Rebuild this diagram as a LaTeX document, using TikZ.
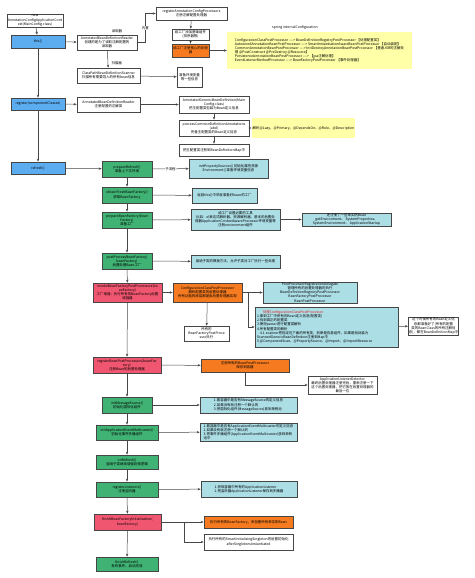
\documentclass[tikz,border=0pt]{standalone}
\usepackage{fontspec}
\setmainfont{Noto Sans CJK SC}
\usetikzlibrary{arrows.meta, positioning}
\definecolor{callblue}{RGB}{92,172,240}
\definecolor{stepgreen}{RGB}{64,178,116}
\definecolor{steppink}{RGB}{240,86,112}
\definecolor{steporange}{RGB}{245,122,32}
\definecolor{notecyan}{RGB}{172,222,230}
\definecolor{noteyellow}{RGB}{255,255,168}
\definecolor{linegray}{RGB}{70,70,70}
\definecolor{titlered}{RGB}{220,30,30}

\begin{document}
\begin{tikzpicture}[
    x=1pt, y=-1pt,
    font=\fontsize{3.45}{4.1}\selectfont,
    >={Stealth[length=3pt,width=2.4pt]},
    box/.style={draw=linegray, line width=0.6pt, inner sep=0.5pt, align=center, fill=white},
    bluebox/.style={box, fill=callblue},
    greenbox/.style={box, fill=stepgreen},
    pinkbox/.style={box, fill=steppink},
    orangebox/.style={box, fill=steporange},
    cyanbox/.style={box, fill=notecyan},
    yellownote/.style={fill=noteyellow, inner sep=1pt},
    flow/.style={->, draw=linegray, line width=0.5pt},
    tag/.style={fill=white, inner sep=0.4pt}
]

\useasboundingbox (0,0) rectangle (474,578);

% ============================================================
% CONSTRUCTOR: this()
% ============================================================
\node[box, minimum width=56, minimum height=13] (newCtx) at (35,20.5)
    {new\\AnnotationConfigApplicationCont\\ext(MainConfig.class)};
\node[bluebox, minimum width=54, minimum height=13] (thisCall) at (38,41.5) {this()};

\node[box, minimum width=60, minimum height=15] (readerA) at (107,42.5)
    {AnnotatedBeanDefinitionReader\\创建的是为了读取注解配置的\\读取器};
\node (lblReader) at (117,31) {读取器};

\node[box, minimum width=71, minimum height=13] (regProcs) at (191.5,13.5)
    {registerAnnotationConfigProcessors\\注册注解配置处理器};
\node[box, minimum width=37, minimum height=11] (addBase) at (190.5,34.5)
    {给工厂添加基础组件\\(排序器等)};
\node[orangebox, minimum width=37, minimum height=13] (regCore) at (190.5,50.5)
    {给工厂注册核心的处理\\器};

% internal processors
\node (lblInternal) at (295,28) {spring internalConfiguration};
\node[yellownote, minimum width=185, minimum height=37, align=left] (noteInternal) at (319.5,50.5)
    {ConfigurationClassPostProcessor ----> BeanDefinitionRegistryPostProcessor 【处理配置类】\\
     AutowiredAnnotationBeanPostProcessor ----> SmartInstantiationAwareBeanPostProcessor 【自动装配】\\
     CommonAnnotationBeanPostProcessor ----> InitDestroyAnnotationBeanPostProcessor 【普通JSR的注解处\\
     理 @PostConstruct @PreDestroy @Resource】\\
     PersistenceAnnotationBeanPostProcessor ----> 【jpa注解处理】\\
     EventListenerMethodProcessor ----> BeanFactoryPostProcessor 【事件处理器】};

\node[box, minimum width=63, minimum height=15] (scanner) at (108.5,75.5)
    {ClassPathBeanDefinitionScanner\\扫描所有需要导入的所有bean信息};
\node[box, minimum width=25, minimum height=20] (envInfo) at (189.5,77)
    {准备环境变量\\等一些信息};

\draw[flow] (newCtx) -- (thisCall);
\draw[flow] (thisCall) -- (readerA);
\draw[flow] (readerA.east) -- ++(8,0) |- node[tag, pos=0.25] {内置} (regProcs.west);
\draw[flow] (regProcs) -- (addBase);
\draw[flow] (addBase) -- (regCore);
\draw[flow] (regCore.east) -- (noteInternal.west |- regCore.east);
\draw[flow] (readerA) -- node[right, pos=0.75] {扫描器} (scanner);
\draw[flow] (scanner) -- (envInfo);

% ============================================================
% REGISTER: register(componentClasses)
% ============================================================
\node[bluebox, minimum width=54, minimum height=12] (register) at (38,104) {register(componentClasses)};
\node[box, minimum width=63, minimum height=15] (readerB) at (108.5,104.5)
    {AnnotatedBeanDefinitionReader\\注册配置的注解类};
\node[box, minimum width=70, minimum height=17] (wrapDef) at (214,104.5)
    {AnnotatedGenericBeanDefinition(Main\\Config.class)\\把主配置类包装为Bean定义信息};
\node[box, minimum width=70, minimum height=16] (commonDef) at (214,128)
    {processCommonDefinitionAnnotations\\(abd)\\完善主配置类的Bean定义信息};
\node[yellownote, minimum width=67, minimum height=20] (noteLazy) at (303.5,128)
    {解析@Lazy、@Primary、\\@DependsOn、@Role、@Description};
\node[box, minimum width=70, minimum height=12] (defMap) at (214,150)
    {把主配置类注册到BeanDefinitionMap中};

\draw[flow] (thisCall) -- (register);
\draw[flow] (register) -- (readerB);
\draw[flow] (readerB) -- (wrapDef);
\draw[flow] (wrapDef) -- (commonDef);
\draw[flow] (commonDef) -- (defMap);
\draw[flow] (commonDef) -- (noteLazy);

% ============================================================
% REFRESH: refresh()
% ============================================================
\node[bluebox, minimum width=54, minimum height=12] (refresh) at (38,168) {refresh()};
\draw[flow] (register) -- (refresh);

% main steps
\node[greenbox, minimum width=50, minimum height=16] (prepRefresh) at (127,169)
    {prepareRefresh()\\准备上下文环境};
\node[greenbox, minimum width=50, minimum height=16] (obtainBF) at (127,195)
    {obtainFreshBeanFactory()\\获取BeanFactory};
\node[greenbox, minimum width=50, minimum height=16] (prepBF) at (127,220)
    {prepareBeanFactory(bean\\Factory)\\准备工厂};
\node[greenbox, minimum width=50, minimum height=16] (postBF) at (127,261)
    {postProcessBeanFactory(\\beanFactory)\\后置处理Bean工厂};
\node[pinkbox, minimum width=69, minimum height=19] (invokeBFPP) at (127.5,292.5)
    {invokeBeanFactoryPostProcessors(be\\anFactory)\\工厂增强：执行所有的BeanFactory后置\\增强器};
\node[pinkbox, minimum width=68, minimum height=16] (regBPP) at (127,365)
    {registerBeanPostProcessors(beanFac\\tory)\\注册Bean的后置处理器};
\node[greenbox, minimum width=50, minimum height=16] (initMsg) at (127,405)
    {initMessageSource()\\初始化国际化组件};
\node[greenbox, minimum width=62, minimum height=15] (initMulti) at (127,432.5)
    {initApplicationEventMulticaster()\\初始化事件多播组件};
\node[greenbox, minimum width=62, minimum height=14] (onRefresh) at (127,462)
    {onRefresh()\\留给子类继续增强处理逻辑};
\node[greenbox, minimum width=62, minimum height=15] (regListen) at (127,489.5)
    {registerListeners()\\注册监听器};
\node[pinkbox, minimum width=67, minimum height=16] (finishInit) at (127.5,522)
    {finishBeanFactoryInitialization(\\beanFactory)};
\node[greenbox, minimum width=62, minimum height=14] (finishRefresh) at (127,564)
    {finishRefresh()\\发布事件、启动完成};

\draw[flow] (refresh) -- (prepRefresh);
\draw[flow] (prepRefresh) -- (obtainBF);
\draw[flow] (obtainBF) -- (prepBF);
\draw[flow] (prepBF) -- (postBF);
\draw[flow] (postBF) -- (invokeBFPP);
\draw[flow] (invokeBFPP) -- (regBPP);
\draw[flow] (regBPP) -- (initMsg);
\draw[flow] (initMsg) -- (initMulti);
\draw[flow] (initMulti) -- (onRefresh);
\draw[flow] (onRefresh) -- (regListen);
\draw[flow] (regListen) -- (finishInit);
\draw[flow] (finishInit) -- (finishRefresh);

% sub steps
\node[cyanbox, minimum width=79, minimum height=19] (initProps) at (228.5,168.5)
    {initPropertySources() 初始化属性资源\\Environment() 准备环境变量信息};
\node[cyanbox, minimum width=65, minimum height=15] (returnBF) at (224.5,195.5)
    {返回this()中早就准备好bean的工厂};
\node[cyanbox, minimum width=89, minimum height=21] (setTools) at (235.5,219.5)
    {给工厂设置必要的工具\\比如：el表达式解析器、资源解析器、基本的后置处\\理器ApplicationContextAwareProcessor环境变量等\\注册environment组件};
\node[cyanbox, minimum width=89, minimum height=13] (singletons) at (346.5,219.5)
    {还注册了一些单实例Bean\\getEnvironment、 SystemProperties、\\SystemEnvironment、 ApplicationStartup};
\node[cyanbox, minimum width=89, minimum height=13] (template) at (235.5,261.5)
    {留给子类的模板方法，允许子类对工厂执行一些处理};

\draw[flow] (prepRefresh) -- node[tag] {子流程} (initProps);
\draw[flow] (obtainBF) -- (returnBF);
\draw[flow] (prepBF) -- (setTools);
\draw[flow] (setTools) -- (singletons);
\draw[flow] (postBF) -- (template);

% factory post processors
\node[orangebox, minimum width=69, minimum height=19] (configPP) at (207.5,292.5)
    {ConfigurationClassPostProcessor\\解析配置类的后置处理器\\所有功能的底层都是由后置处理器实现};
\node[cyanbox, minimum width=94, minimum height=21] (delegate) at (310,292.5)
    {PostProcessorRegistrationDelegate\\管理所有的后置处理器的执行\\BeanDefinitionRegistryPostProcessor\\BeanFactoryPostProcessor\\BeanPostProcessor};
\node[cyanbox, minimum width=143, minimum height=40, align=left, text width=139] (parseCfg) at (326.5,327)
    {\hspace{6pt}\textcolor{titlered}{处理ConfigurationClassPostProcessor}\\
     1.拿到工厂中所有的Bean定义信息(配置类)\\
     2.找到真正的配置类\\
     3.使用parser进行配置类解析\\
     4.所有配置类的解析\\
     \hspace{3pt}4.1 scanner把指定包下面的所有类，判断是否是组件，如果是就封装为\\
     ScannedGenericBeanDefinition注册到Map中\\
     5.@ComponentScan、@PropertySource、@Import、@ImportResource};
\node[box, minimum width=49, minimum height=18] (defsReady) at (433.5,326)
    {这个时候所有的Bean定义信\\息都准备好了(所有的配置\\类的BeanClass的所有注解信\\息)，都在BeanDefinitionMap中};
\node[box, minimum width=45, minimum height=15] (bfppRun) at (206.5,333.5)
    {所有的\\BeanFactoryPostProce\\ssor执行};

\draw[flow] (invokeBFPP) -- (configPP);
\draw[flow] (configPP) -- (delegate);
\draw[flow] (configPP.east) -- ++(6,0) |- (parseCfg.west);
\draw[flow] (parseCfg) -- (defsReady);
\draw[flow] (configPP) -- (bfppRun);

% bean post processors
\node[orangebox, minimum width=88, minimum height=13] (regAllBPP) at (245,365.5)
    {注册所有的BeanPostProcessor\\保存到容器};
\node[box, minimum width=69, minimum height=18] (listenerDet) at (342.5,385)
    {ApplicationListenerDetector\\最终后置处理器注册完后，重新注册一下\\这个后置处理器，把它放在后置处理器的\\最后一位};

\draw[flow] (regBPP) -- (regAllBPP);
\draw[flow] (regAllBPP.south) |- (listenerDet.west);

% message source, multicaster, listeners
\node[cyanbox, minimum width=97, minimum height=16, align=left] (msgNote) at (248.5,405)
    {1.看容器中是否有MessageSource的定义信息\\2.如果没有就注册一个默认的\\3.把国际化组件(MessageSource)放到单例池};
\node[cyanbox, minimum width=97, minimum height=18, align=left] (multiNote) at (248.5,432)
    {1.看容器中是否有ApplicationEventMulticaster的定义信息\\2.如果没有就注册一个默认的\\3.把事件多播组件(ApplicationEventMulticaster)放到单例\\池中};
\node[cyanbox, minimum width=96, minimum height=16, align=left] (listenNote) at (249,489)
    {1.获取容器中所有的ApplicationListener\\2.把监听器ApplicationListener保存到多播器};

\draw[flow] (initMsg) -- (msgNote);
\draw[flow] (initMulti) -- (multiNote);
\draw[flow] (regListen) -- (listenNote);

% finish
\node[orangebox, minimum width=89, minimum height=12] (createBeans) at (248.5,522)
    {执行所有的BeanFactory，来创建所有单实例Bean};
\node[box, minimum width=89, minimum height=16] (smartInit) at (248.5,542)
    {执行所有的SmartInitializingSingleton的后置初始化\\afterSingletonsInstantiated};

\draw[flow] (finishInit) -- (createBeans);
\draw[flow] (finishInit.east) -- ++(23,0) |- (smartInit.west);

\end{tikzpicture}
\end{document}
